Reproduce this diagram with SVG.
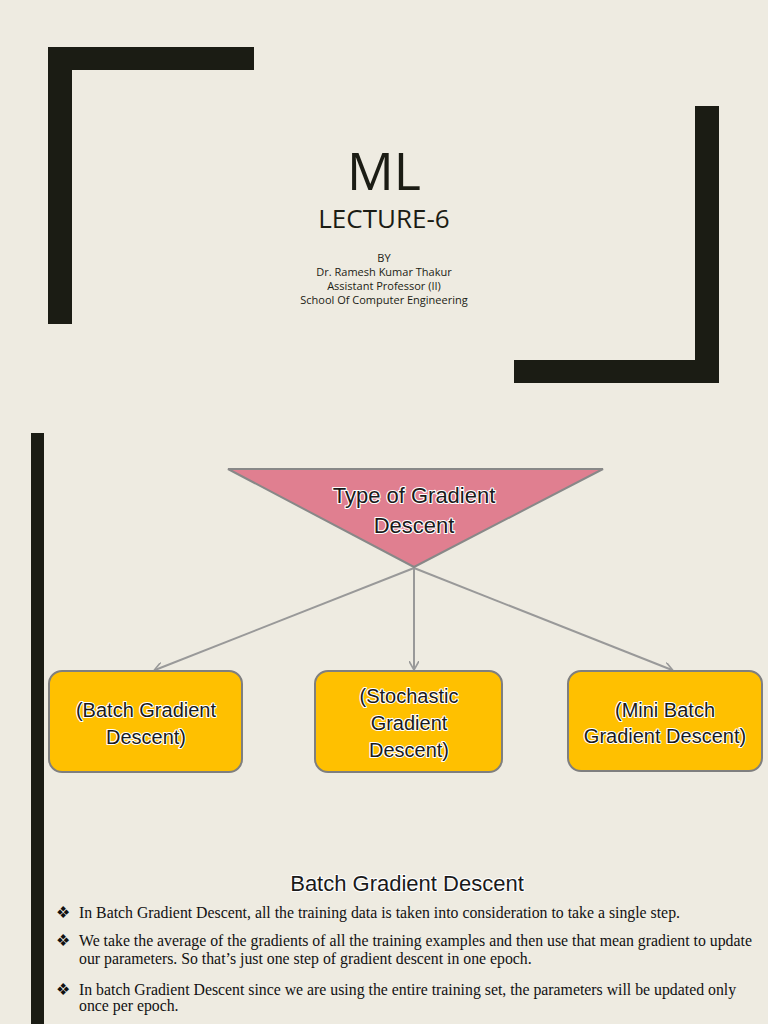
<svg xmlns="http://www.w3.org/2000/svg" width="768" height="1024" viewBox="0 0 768 1024">
<style>
.bar{fill:#1b1c14}
.t{font-family:"Open Sans","Liberation Sans",sans-serif;fill:#1b1c14;text-anchor:middle}
.h{font-family:"Liberation Sans",Arial,sans-serif;fill:#1a1a1a;text-anchor:middle;stroke:#ffffff;stroke-width:2.2;paint-order:stroke;stroke-linejoin:round;font-size:20px}
.box{fill:#ffc000;stroke:#7f7f7f;stroke-width:2}
.c{stroke:#999;stroke-width:2;fill:none;marker-end:url(#a)}
.b{font-family:"Liberation Serif","Times New Roman",serif;font-size:15.8px;fill:#111}
</style>
<defs><marker id="a" markerWidth="10" markerHeight="10" refX="8" refY="5" orient="auto" markerUnits="userSpaceOnUse"><path d="M0,0 L9,5 L0,10" fill="none" stroke="#999" stroke-width="1.6"/></marker></defs>
<rect width="768" height="1024" fill="#eeebe1"/>
<rect class="bar" x="48" y="47" width="206" height="23"/>
<rect class="bar" x="48" y="47" width="24" height="277"/>
<rect class="bar" x="695" y="106" width="24" height="277"/>
<rect class="bar" x="514" y="360" width="205" height="23"/>
<text class="t" x="384" y="190" font-size="52">ML</text>
<text class="t" x="384" y="228" font-size="26">LECTURE-6</text>
<text class="t" x="384" y="262" font-size="11">BY</text>
<text class="t" x="384" y="276" font-size="11">Dr. Ramesh Kumar Thakur</text>
<text class="t" x="384" y="290" font-size="11">Assistant Professor (II)</text>
<text class="t" x="384" y="304" font-size="11">School Of Computer Engineering</text>
<rect class="bar" x="31" y="433" width="13" height="591"/>
<g id="connectors">
<line class="c" x1="414" y1="568" x2="155" y2="670"/>
<line class="c" x1="414" y1="568" x2="414" y2="669"/>
<line class="c" x1="414" y1="568" x2="672" y2="670"/>
</g>
<g id="root">
<polygon points="228,469 603,469 414,567" fill="#e07f90" stroke="#888" stroke-width="2"/>
<text class="h" x="414" y="503" style="font-size:22px">Type of Gradient</text>
<text class="h" x="414" y="533" style="font-size:22px">Descent</text>
</g>
<g id="batch">
<rect class="box" x="49" y="671" width="193" height="101" rx="13"/>
<text class="h" x="146" y="717">(Batch Gradient</text>
<text class="h" x="146" y="744">Descent)</text>
</g>
<g id="stochastic">
<rect class="box" x="315" y="671" width="187" height="101" rx="13"/>
<text class="h" x="409" y="703">(Stochastic</text>
<text class="h" x="409" y="730">Gradient</text>
<text class="h" x="409" y="757">Descent)</text>
</g>
<g id="minibatch">
<rect class="box" x="568" y="671" width="194" height="100" rx="13"/>
<text class="h" x="665" y="717">(Mini Batch</text>
<text class="h" x="665" y="743">Gradient Descent)</text>
</g>
<text class="h" x="407" y="891" style="font-size:22px">Batch Gradient Descent</text>
<g class="b">
<text x="56" y="918">❖</text><text x="79" y="918">In Batch Gradient Descent, all the training data is taken into consideration to take a single step.</text>
<text x="56" y="946">❖</text><text x="79" y="946">We take the average of the gradients of all the training examples and then use that mean gradient to update</text>
<text x="79" y="964">our parameters. So that’s just one step of gradient descent in one epoch.</text>
<text x="56" y="995">❖</text><text x="79" y="995">In batch Gradient Descent since we are using the entire training set, the parameters will be updated only</text>
<text x="79" y="1011">once per epoch.</text>
</g>
</svg>
